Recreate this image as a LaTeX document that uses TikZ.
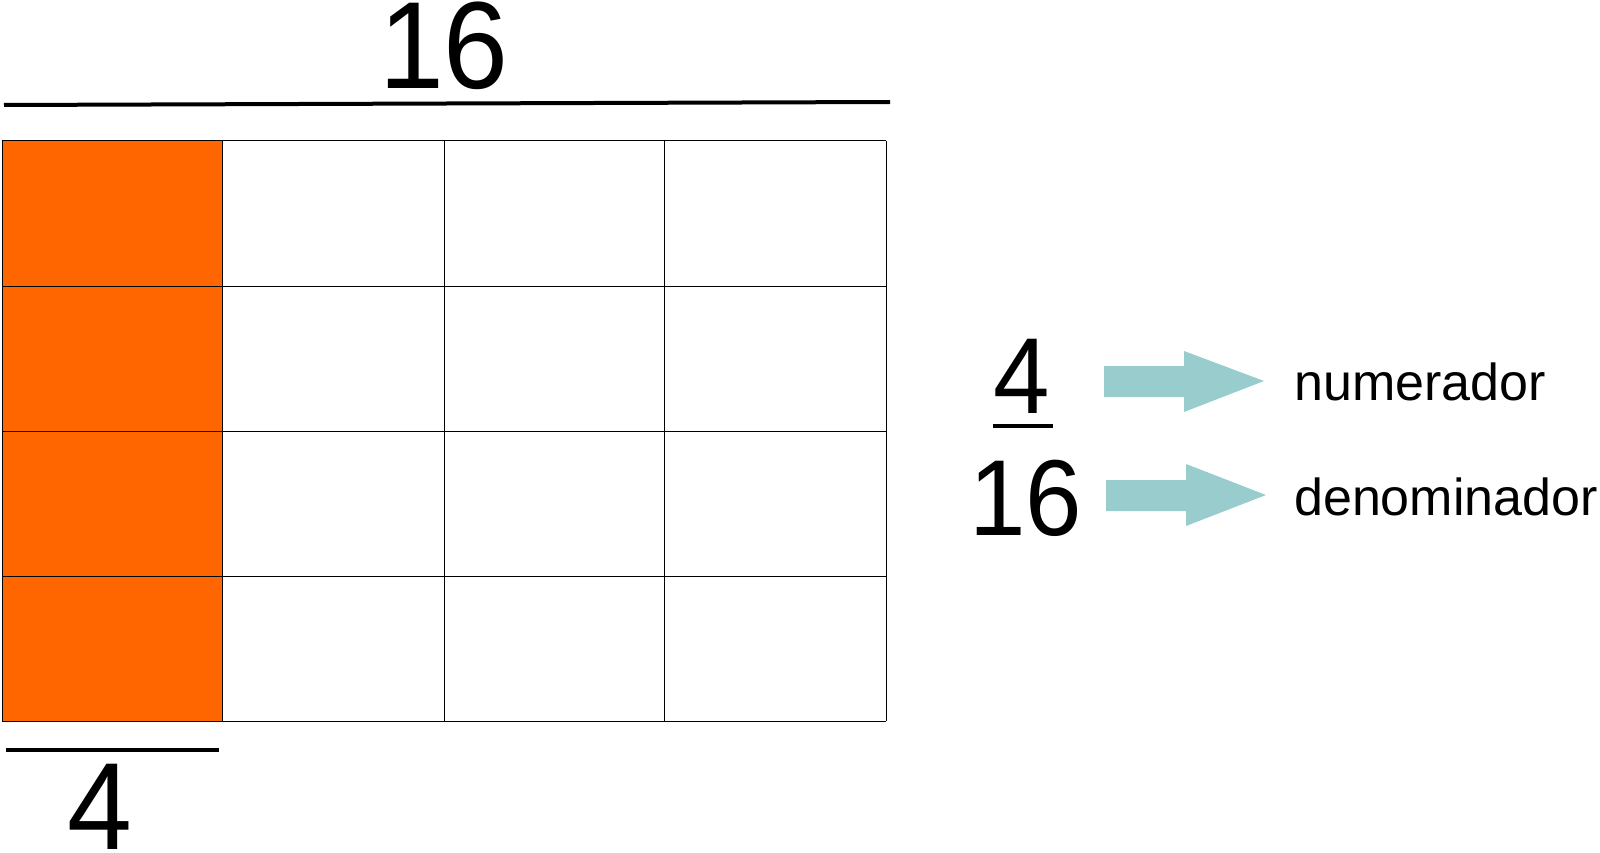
\documentclass[tikz,border=0pt]{standalone}
\usepackage{fontspec}
\setmainfont{Liberation Sans}
\definecolor{orangecell}{RGB}{255,102,0}
\definecolor{tealarrow}{RGB}{153,204,204}
\tikzset{
  bignum/.style={inner sep=0pt, anchor=base, xscale=0.94, font=\fontsize{124}{124}\selectfont},
  midnum/.style={inner sep=0pt, anchor=base, xscale=0.94, font=\fontsize{108}{108}\selectfont},
  word/.style={inner sep=0pt, anchor=base west, font=\fontsize{52}{52}\selectfont},
  gridline/.style={draw=black, line width=1pt},
  barline/.style={draw=black, line width=4pt},
  blockarrow/.style={fill=tealarrow, draw=none}
}
\begin{document}
\begin{tikzpicture}[x=1pt,y=-1pt]
\useasboundingbox (0,0) rectangle (1600,853);
% orange column
\fill[orangecell] (2,141) rectangle (222,721);
% grid
\foreach \x in {2,222,444,664,886} \draw[gridline] (\x,141) -- (\x,721);
\foreach \y in {141,286,431,576,721} \draw[gridline] (2,\y) -- (886,\y);
% top label
\coordinate (tl) at (4,105);
\coordinate (tr) at (890,102);
\draw[barline] (tl) -- (tr);
\node[bignum] (top16) at (444,89) {16};
% bottom label
\coordinate (bl) at (6,750);
\coordinate (br) at (219,750);
\draw[line width=3.5pt] (bl) -- (br);
\node[bignum] (bot4) at (100,849) {4};
% fraction
\node[midnum] (num) at (1022,413) {4};
\coordinate (ul) at (993,426);
\coordinate (ur) at (1053,426);
\draw[line width=4pt] (ul) -- (ur);
\node[midnum] (den) at (1026,535) {16};
% arrows
\fill[blockarrow] (1104,366) -- (1184,366) -- (1184,351) -- (1264,381) -- (1184,412) -- (1184,397) -- (1104,397) -- cycle;
\fill[blockarrow] (1106,480) -- (1186,480) -- (1186,464) -- (1266,495) -- (1186,526) -- (1186,511) -- (1106,511) -- cycle;
% words
\node[word] (numw) at (1294,400) {numerador};
\node[word] (denw) at (1294,515) {denominador};
\end{tikzpicture}
\end{document}
